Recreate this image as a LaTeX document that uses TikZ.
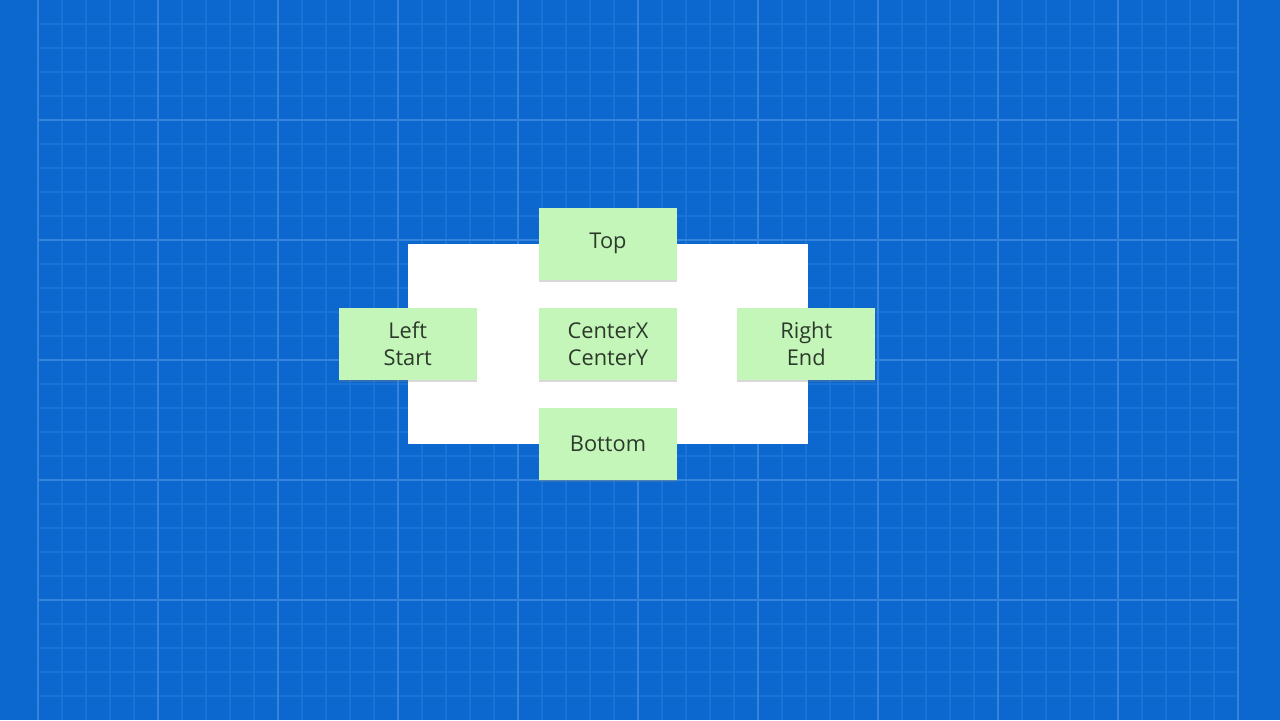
\documentclass[tikz,border=0pt]{standalone}
\usepackage{fontspec}
\setmainfont{Open Sans}
\usetikzlibrary{shadows}

\definecolor{blueprint}{RGB}{12,104,206}
\definecolor{gridminor}{RGB}{26,114,212}
\definecolor{gridmajor}{RGB}{52,132,220}
\definecolor{viewgreen}{RGB}{197,246,185}
\definecolor{labelgray}{RGB}{44,58,44}

\begin{document}
\begin{tikzpicture}[
  viewbox/.style={rectangle, fill=viewgreen, minimum width=3.45cm, minimum height=1.8cm,
    align=center, text=labelgray, font=\fontsize{15.5}{19.5}\selectfont,
    drop shadow={shadow xshift=0pt, shadow yshift=-1.5pt, opacity=.3}},
  parentbox/.style={rectangle, fill=white, minimum width=10cm, minimum height=5cm, inner sep=0pt}
]

\useasboundingbox (0,0) rectangle (32cm,-18cm);
\fill [blueprint] (0,0) rectangle (32cm,-18cm);

%-----------------------------------------------------
\foreach \x in {0.95,1.55,...,30.96}
  \draw [gridminor, line width=.05cm] (\x cm,0) -- (\x cm,-18cm);
\foreach \y in {-0.6,-1.2,...,-17.5}
  \draw [gridminor, line width=.05cm] (0.95cm,\y cm) -- (30.95cm,\y cm);

\foreach \x in {0.95,3.95,...,30.96}
  \draw [gridmajor, line width=.07cm] (\x cm,0) -- (\x cm,-18cm);
\foreach \y in {-3,-6,...,-15}
  \draw [gridmajor, line width=.07cm] (0.95cm,\y cm) -- (30.95cm,\y cm);

%-----------------------------------------------------
\node (parent) at (15.2cm,-8.6cm) [parentbox] {};

\node (top) at (parent.north) [viewbox] {Top};
\node (bottom) at (parent.south) [viewbox] {Bottom};
\node (left) at (parent.west) [viewbox] {Left\\Start};
\node (center) at (parent.center) [viewbox] {CenterX\\CenterY};
\node (right) at ([xshift=-.05cm]parent.east) [viewbox] {Right\\End};

\end{tikzpicture}
\end{document}
